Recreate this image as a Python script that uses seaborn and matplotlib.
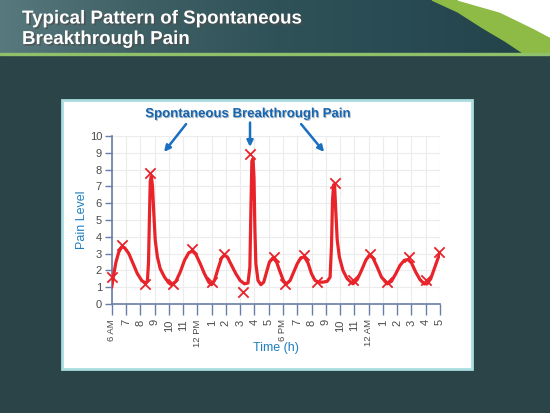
import numpy as np
import pandas as pd
import matplotlib
matplotlib.use("Agg")
import matplotlib.pyplot as plt
import seaborn as sns
from matplotlib.patches import Rectangle, Polygon
from matplotlib.colors import LinearSegmentedColormap
import matplotlib.patheffects as pe

# ---------------- data ----------------
time_h = [0.0, 0.15, 0.3, 0.5, 0.7, 0.9, 1.2, 1.5, 1.8, 2.1, 2.35, 2.5,
          2.58, 2.64, 2.7, 2.78, 2.86, 2.95, 3.05, 3.2, 3.4, 3.7, 4.0, 4.2,
          4.5, 4.8, 5.1, 5.4, 5.65, 5.9, 6.2, 6.5, 6.8, 7.0, 7.2, 7.45, 7.7,
          7.9, 8.1, 8.4, 8.7, 9.0, 9.3, 9.55,
          9.68, 9.75, 9.82, 9.9, 9.97, 10.03, 10.1, 10.25, 10.45, 10.65,
          10.85, 11.05, 11.3, 11.55, 11.8, 12.05, 12.25, 12.5, 12.75, 13.0,
          13.25, 13.5, 13.75, 14.0, 14.25, 14.5, 14.8, 15.1, 15.3,
          15.4, 15.47, 15.55, 15.62, 15.7, 15.8, 15.95, 16.2, 16.5, 16.9,
          17.2, 17.5, 17.8, 18.05, 18.3, 18.6, 18.9, 19.3, 19.6, 19.9, 20.2,
          20.5, 20.75, 21.0, 21.3, 21.6, 21.9, 22.1, 22.35, 22.6, 22.85, 23.0]
pain = [1.0, 1.8, 2.5, 3.1, 3.4, 3.35, 3.0, 2.4, 1.8, 1.4, 1.25, 1.35,
        2.5, 5.0, 7.3, 7.6, 7.0, 5.4, 3.8, 2.8, 2.1, 1.6, 1.25, 1.15,
        1.35, 1.9, 2.6, 3.05, 3.15, 2.95, 2.4, 1.8, 1.3, 1.15, 1.4, 2.1, 2.75,
        2.9, 2.8, 2.3, 1.8, 1.4, 1.2, 1.25,
        2.2, 5.5, 8.5, 8.65, 7.5, 4.5, 2.4, 1.4, 1.15, 1.3,
        1.9, 2.5, 2.75, 2.5, 1.9, 1.35, 1.2, 1.4, 1.9, 2.4,
        2.75, 2.8, 2.45, 1.8, 1.4, 1.3, 1.3, 1.35, 1.6,
        3.5, 6.2, 7.1, 7.0, 5.5, 3.8, 2.8, 2.0, 1.5, 1.2,
        1.45, 2.0, 2.6, 2.9, 2.75, 2.2, 1.6, 1.2, 1.35, 1.8, 2.3,
        2.6, 2.65, 2.45, 1.9, 1.45, 1.2, 1.2, 1.5, 2.1, 2.7, 3.0]

mark_t = [0.0, 0.7, 2.3, 2.7, 4.3, 5.6, 7.0, 7.9, 9.2, 9.7, 11.35, 12.15,
          13.45, 14.35, 15.65, 16.9, 18.1, 19.3, 20.8, 22.0, 22.9]
mark_v = [1.6, 3.5, 1.2, 7.8, 1.2, 3.3, 1.3, 3.0, 0.7, 8.9, 2.8, 1.2,
          2.9, 1.3, 7.2, 1.4, 3.0, 1.3, 2.8, 1.4, 3.1]

hour_labels = ["6 AM", "7", "8", "9", "10", "11", "12 PM", "1", "2", "3", "4",
               "5", "6 PM", "7", "8", "9", "10", "11", "12 AM", "1", "2", "3",
               "4", "5"]
y_ticks = list(range(0, 11))

title_text = "Typical Pattern of Spontaneous\nBreakthrough Pain"
note_text = "Spontaneous Breakthrough Pain"
note_pos = (9.55, 11.3)
arrow_from = [(5.21, 10.71), (9.69, 10.8), (13.27, 10.71)]
arrow_to = [(3.67, 9.05), (9.69, 9.35), (14.88, 9.05)]

# ---------------- style ----------------
sns.set_theme(style="white")
plt.rcParams['font.family'] = ['Liberation Sans', 'DejaVu Sans']

W, H = 550, 413
fig = plt.figure(figsize=(5.5, 4.13), dpi=100)

bg = fig.add_axes([0, 0, 1, 1], zorder=0)
bg.axis('off')
bg.add_patch(Rectangle((0, 0), W, H, color='#2b4448', zorder=0))
grad = np.linspace(0, 1, 256)[None, :]
cmap = LinearSegmentedColormap.from_list(
    'hdr', ['#587a7e', '#3f6166', '#2f5258', '#284a52', '#234249'])
bg.imshow(grad, extent=(0, W, 53, 0), cmap=cmap, aspect='auto', zorder=1)
bg.add_patch(Polygon([(432, 0), (W, 0), (W, 53), (523, 53), (505, 41),
                      (483, 28), (458, 12)], closed=True,
                     color='#8dbb45', zorder=2))
bg.add_patch(Polygon([(458, 0), (W, 0), (W, 37), (533, 28), (500, 12)],
                     closed=True, color='white', zorder=3))
bg.add_patch(Rectangle((0, 53), W, 2.2, color='#8fc06a', zorder=4))
bg.add_patch(Rectangle((62, 100), 410, 269, facecolor='white',
                       edgecolor='#a9dde0', lw=2, zorder=5))
bg.text(22, 10.5, title_text, color='white', fontsize=13.5, fontweight='bold',
        va='top', ha='left', linespacing=1.27, zorder=6,
        path_effects=[pe.SimplePatchShadow(offset=(1.2, -1.2), alpha=0.7),
                      pe.Normal()])
bg.set_xlim(0, W)
bg.set_ylim(H, 0)

ax = fig.add_axes([111.7 / W, 1 - 304 / H, (440 - 111.7) / W, (304 - 136) / H],
                  zorder=2)
ax.set_facecolor('none')

sns.lineplot(x=time_h, y=pain, sort=False, color='#e8232a', linewidth=2.3,
             ax=ax, zorder=3)
sns.scatterplot(x=mark_t, y=mark_v, marker='x', color='#e8232a', s=55,
                linewidth=1.3, ax=ax, zorder=4, clip_on=False)

ax.set_xlim(0, 23)
ax.set_ylim(0, 10)
ax.set_xticks(range(len(hour_labels)))
ax.set_xticklabels(hour_labels, rotation=90)
ax.set_yticks(y_ticks)
ax.grid(True, color='#ececec', lw=0.8, zorder=0)
ax.set_axisbelow(True)
axis_col = '#6a7da6'
for s in ['top', 'right']:
    ax.spines[s].set_visible(False)
for s in ['left', 'bottom']:
    ax.spines[s].set_color(axis_col)
    ax.spines[s].set_linewidth(1.2)
ax.tick_params(axis='x', length=8, width=1, color=axis_col, labelsize=8,
               labelcolor='#4a4a4a', pad=3, bottom=True)
ax.tick_params(axis='y', length=5, width=1, color=axis_col, labelsize=8,
               labelcolor='#4a4a4a', pad=2, left=True)
for lbl in ax.get_xticklabels():
    if 'M' in lbl.get_text():
        lbl.set_fontsize(6.8)

lab_col = '#1f7fc0'
ax.set_xlabel("Time (h)", color=lab_col, fontsize=9)
ax.xaxis.set_label_coords(0.5, -0.225)
ax.set_ylabel("Pain Level", color=lab_col, fontsize=9, va='center')
ax.yaxis.set_label_coords(-0.09, 0.5)

ax.text(*note_pos, note_text, ha='center', va='center', color='#1565b0',
        fontsize=9.5, fontweight='bold', clip_on=False,
        path_effects=[pe.SimplePatchShadow(offset=(0.7, -0.7), alpha=0.3),
                      pe.Normal()])
for a, b in zip(arrow_from, arrow_to):
    ax.annotate('', xy=b, xytext=a, annotation_clip=False,
                arrowprops=dict(arrowstyle='-|>', color='#1a6fc0', lw=1.8,
                                mutation_scale=9, shrinkA=0, shrinkB=0))

fig.savefig('out.png', dpi=100)
